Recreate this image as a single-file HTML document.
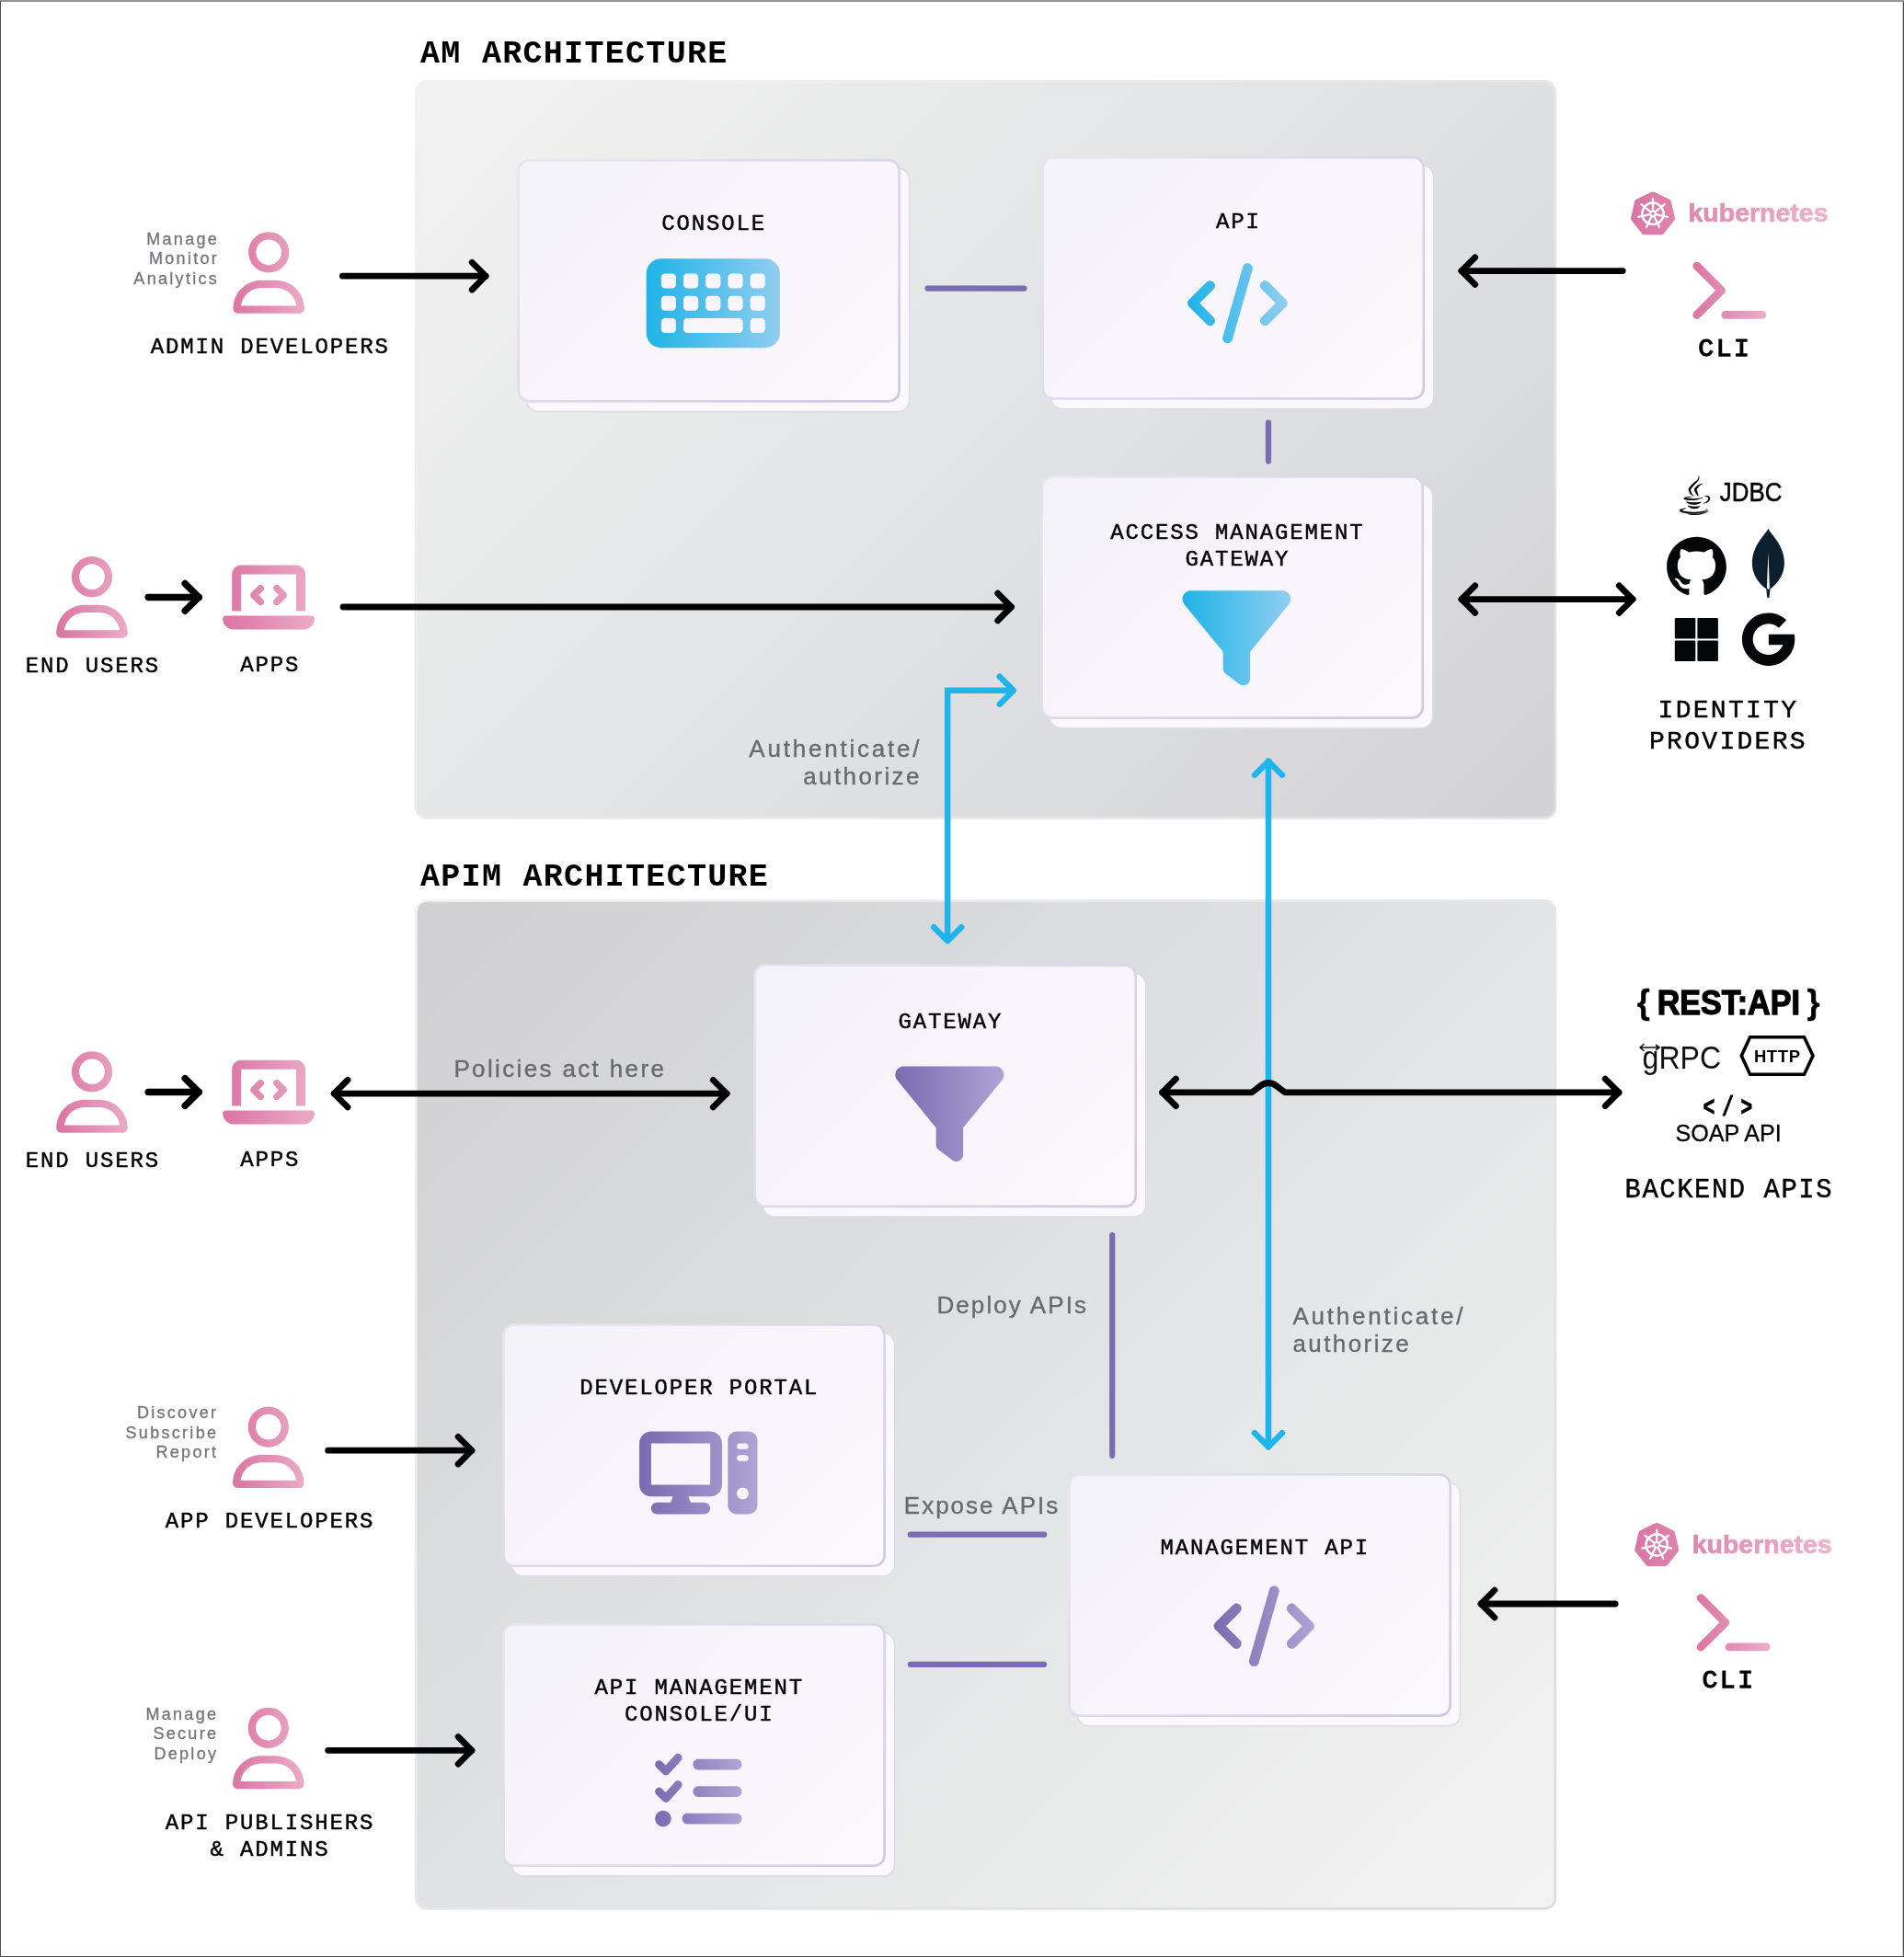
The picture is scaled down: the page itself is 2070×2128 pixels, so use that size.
<!DOCTYPE html>
<html lang="en"><head><meta charset="utf-8"><title>AM and APIM Architecture</title>
<style>
html,body{margin:0;padding:0;background:#fff;}
body{width:2070px;height:2128px;overflow:hidden;}
svg{display:block;will-change:transform;}
text{white-space:pre;}
</style></head><body>
<svg width="2070" height="2128" viewBox="0 0 2070 2128">
<defs>
<linearGradient id="gAM" gradientUnits="userSpaceOnUse" x1="451" y1="87" x2="1472" y2="1108"><stop offset="0" stop-color="#f2f2f2"/><stop offset="0.5" stop-color="#e2e3e4"/><stop offset="1" stop-color="#d2d2d4"/></linearGradient>
<linearGradient id="gAPIM" gradientUnits="userSpaceOnUse" x1="451" y1="978" x2="1620" y2="2147"><stop offset="0" stop-color="#cfcfd2"/><stop offset="0.5" stop-color="#e1e2e3"/><stop offset="1" stop-color="#f3f3f3"/></linearGradient>
<linearGradient id="gAMs" gradientUnits="userSpaceOnUse" x1="451" y1="87" x2="1472" y2="1108"><stop offset="0" stop-color="#f1f1f1"/><stop offset="1" stop-color="#dfe0e2"/></linearGradient>
<linearGradient id="gAPIMs" gradientUnits="userSpaceOnUse" x1="451" y1="978" x2="1620" y2="2147"><stop offset="0" stop-color="#f2f2f3"/><stop offset="1" stop-color="#dbdcdf"/></linearGradient>
<linearGradient id="gCard" x1="0" y1="0" x2="1.165" y2="0.7405"><stop offset="0" stop-color="#f4f2f9"/><stop offset="1" stop-color="#faf8fd"/></linearGradient>
<linearGradient id="gCardS" x1="0" y1="0" x2="1.165" y2="0.7405"><stop offset="0" stop-color="#e8e5f3"/><stop offset="0.45" stop-color="#dedaee"/><stop offset="1" stop-color="#cec9e3"/></linearGradient>
<linearGradient id="gKb" x1="0" y1="0" x2="1" y2="0"><stop offset="0" stop-color="#1fb3e8"/><stop offset="1" stop-color="#90cef0"/></linearGradient>
<linearGradient id="gCode1" x1="0" y1="0" x2="1" y2="0"><stop offset="0" stop-color="#1fb3e8"/><stop offset="1" stop-color="#90cef0"/></linearGradient>
<linearGradient id="gF1" x1="0" y1="0" x2="1" y2="0"><stop offset="0" stop-color="#1fb3e8"/><stop offset="1" stop-color="#90cef0"/></linearGradient>
<linearGradient id="gF2" x1="0" y1="0" x2="1" y2="0"><stop offset="0" stop-color="#7a6ab1"/><stop offset="1" stop-color="#aea4d4"/></linearGradient>
<linearGradient id="gPc" x1="0" y1="0" x2="1" y2="0"><stop offset="0" stop-color="#7a6ab1"/><stop offset="1" stop-color="#aea4d4"/></linearGradient>
<linearGradient id="gLc" x1="0" y1="0" x2="1" y2="0"><stop offset="0" stop-color="#7a6ab1"/><stop offset="1" stop-color="#aea4d4"/></linearGradient>
<linearGradient id="gCode2" x1="0" y1="0" x2="1" y2="0"><stop offset="0" stop-color="#7a6ab1"/><stop offset="1" stop-color="#aea4d4"/></linearGradient>
<linearGradient id="gP1" x1="0" y1="0" x2="1" y2="0"><stop offset="0" stop-color="#dc74a3"/><stop offset="1" stop-color="#eaabc6"/></linearGradient>
<linearGradient id="gP2" x1="0" y1="0" x2="1" y2="0"><stop offset="0" stop-color="#dc74a3"/><stop offset="1" stop-color="#eaabc6"/></linearGradient>
<linearGradient id="gP3" x1="0" y1="0" x2="1" y2="0"><stop offset="0" stop-color="#dc74a3"/><stop offset="1" stop-color="#eaabc6"/></linearGradient>
<linearGradient id="gP4" x1="0" y1="0" x2="1" y2="0"><stop offset="0" stop-color="#dc74a3"/><stop offset="1" stop-color="#eaabc6"/></linearGradient>
<linearGradient id="gP5" x1="0" y1="0" x2="1" y2="0"><stop offset="0" stop-color="#dc74a3"/><stop offset="1" stop-color="#eaabc6"/></linearGradient>
<linearGradient id="gL1" x1="0" y1="0" x2="1" y2="0"><stop offset="0" stop-color="#dc74a3"/><stop offset="1" stop-color="#eaabc6"/></linearGradient>
<linearGradient id="gL2" x1="0" y1="0" x2="1" y2="0"><stop offset="0" stop-color="#dc74a3"/><stop offset="1" stop-color="#eaabc6"/></linearGradient>
<linearGradient id="gK1" gradientUnits="userSpaceOnUse" x1="1772.7" y1="0" x2="1988.0" y2="0"><stop offset="0" stop-color="#da75a3"/><stop offset="1" stop-color="#edb3cb"/></linearGradient>
<linearGradient id="gT1" x1="0" y1="0" x2="1" y2="0"><stop offset="0" stop-color="#dc74a3"/><stop offset="1" stop-color="#ebadc7"/></linearGradient>
<linearGradient id="gK2" gradientUnits="userSpaceOnUse" x1="1776.9" y1="0" x2="1992.2" y2="0"><stop offset="0" stop-color="#da75a3"/><stop offset="1" stop-color="#edb3cb"/></linearGradient>
<linearGradient id="gT2" x1="0" y1="0" x2="1" y2="0"><stop offset="0" stop-color="#dc74a3"/><stop offset="1" stop-color="#ebadc7"/></linearGradient>
</defs>
<rect x="0" y="0" width="2070" height="2128" fill="#fff"/>
<rect x="0" y="0" width="2070" height="1" fill="#999"/><rect x="0" y="1" width="2070" height="1" fill="#8b8c8e"/>
<rect x="0" y="1" width="1" height="2127" fill="#4e5054"/><rect x="2068.7" y="2" width="1.3" height="2126" fill="#4e5054"/><rect x="0" y="2127" width="2070" height="1" fill="#4e5054"/>
<text x="457.00" y="68.20" font-family='"Liberation Mono", "DejaVu Sans Mono", monospace' font-size="35" font-weight="bold" fill="#000" text-anchor="start" letter-spacing="1.3" >AM ARCHITECTURE</text>
<text x="457.00" y="963.00" font-family='"Liberation Mono", "DejaVu Sans Mono", monospace' font-size="35" font-weight="bold" fill="#000" text-anchor="start" letter-spacing="1.3" >APIM ARCHITECTURE</text>
<rect x="452.3" y="88.3" width="1238.5" height="801.1" rx="11.5" fill="url(#gAM)" stroke="url(#gAMs)" stroke-width="2.6"/>
<rect x="452.3" y="979.4" width="1238.5" height="1096" rx="11.5" fill="url(#gAPIM)" stroke="url(#gAPIMs)" stroke-width="2.6"/>
<rect x="572.4" y="183.0" width="416.1" height="264.5" rx="12.5" fill="#faf8fd" stroke="#dddce5" stroke-width="1.4"/>
<rect x="563.60" y="174.20" width="414.0" height="262.2" rx="11.5" fill="url(#gCard)" stroke="url(#gCardS)" stroke-width="2.6"/>
<rect x="1142.6" y="180.1" width="416.1" height="264.5" rx="12.5" fill="#faf8fd" stroke="#dddce5" stroke-width="1.4"/>
<rect x="1133.80" y="171.30" width="414.0" height="262.2" rx="11.5" fill="url(#gCard)" stroke="url(#gCardS)" stroke-width="2.6"/>
<rect x="1141.5" y="527.2" width="416.1" height="264.5" rx="12.5" fill="#faf8fd" stroke="#dddce5" stroke-width="1.4"/>
<rect x="1132.70" y="518.40" width="414.0" height="262.2" rx="11.5" fill="url(#gCard)" stroke="url(#gCardS)" stroke-width="2.6"/>
<rect x="829.5" y="1058.5" width="416.1" height="264.5" rx="12.5" fill="#faf8fd" stroke="#dddce5" stroke-width="1.4"/>
<rect x="820.70" y="1049.70" width="414.0" height="262.2" rx="11.5" fill="url(#gCard)" stroke="url(#gCardS)" stroke-width="2.6"/>
<rect x="556.4" y="1449.3" width="416.1" height="264.5" rx="12.5" fill="#faf8fd" stroke="#dddce5" stroke-width="1.4"/>
<rect x="547.60" y="1440.50" width="414.0" height="262.2" rx="11.5" fill="url(#gCard)" stroke="url(#gCardS)" stroke-width="2.6"/>
<rect x="556.4" y="1775.3" width="416.1" height="264.5" rx="12.5" fill="#faf8fd" stroke="#dddce5" stroke-width="1.4"/>
<rect x="547.60" y="1766.50" width="414.0" height="262.2" rx="11.5" fill="url(#gCard)" stroke="url(#gCardS)" stroke-width="2.6"/>
<rect x="1171.4" y="1612.2" width="416.1" height="264.5" rx="12.5" fill="#faf8fd" stroke="#dddce5" stroke-width="1.4"/>
<rect x="1162.60" y="1603.40" width="414.0" height="262.2" rx="11.5" fill="url(#gCard)" stroke="url(#gCardS)" stroke-width="2.6"/>
<text x="776.22" y="249.80" font-family='"Liberation Mono", "DejaVu Sans Mono", monospace' font-size="24" font-weight="normal" fill="#000" text-anchor="middle" letter-spacing="1.85"  stroke="#000" stroke-width="0.45">CONSOLE</text>
<path transform="translate(702.65 265.16) scale(0.25226)" fill="url(#gKb)" d="M64 64C28.7 64 0 92.7 0 128V384c0 35.300 28.700 64 64 64H512c35.300 0 64-28.700 64-64V128c0-35.300-28.700-64-64-64H64zm16 64h32c8.800 0 16 7.200 16 16v32c0 8.800-7.200 16-16 16H80c-8.800 0-16-7.200-16-16V144c0-8.800 7.200-16 16-16zM64 240c0-8.800 7.200-16 16-16h32c8.800 0 16 7.200 16 16v32c0 8.800-7.200 16-16 16H80c-8.800 0-16-7.200-16-16V240zm16 80h32c8.800 0 16 7.200 16 16v32c0 8.800-7.200 16-16 16H80c-8.800 0-16-7.200-16-16V336c0-8.800 7.200-16 16-16zm80-176c0-8.800 7.200-16 16-16h32c8.800 0 16 7.200 16 16v32c0 8.800-7.200 16-16 16H176c-8.800 0-16-7.200-16-16V144zm16 80h32c8.800 0 16 7.200 16 16v32c0 8.800-7.200 16-16 16H176c-8.800 0-16-7.200-16-16V240c0-8.800 7.200-16 16-16zM160 336c0-8.800 7.200-16 16-16H400c8.800 0 16 7.200 16 16v32c0 8.800-7.200 16-16 16H176c-8.800 0-16-7.200-16-16V336zM272 128h32c8.800 0 16 7.200 16 16v32c0 8.800-7.200 16-16 16H272c-8.800 0-16-7.200-16-16V144c0-8.800 7.200-16 16-16zM256 240c0-8.800 7.200-16 16-16h32c8.800 0 16 7.200 16 16v32c0 8.800-7.200 16-16 16H272c-8.800 0-16-7.200-16-16V240zM368 128h32c8.800 0 16 7.200 16 16v32c0 8.800-7.200 16-16 16H368c-8.800 0-16-7.200-16-16V144c0-8.800 7.200-16 16-16zM352 240c0-8.800 7.200-16 16-16h32c8.800 0 16 7.200 16 16v32c0 8.800-7.200 16-16 16H368c-8.800 0-16-7.200-16-16V240zM464 128h32c8.800 0 16 7.200 16 16v32c0 8.800-7.200 16-16 16H464c-8.800 0-16-7.200-16-16V144c0-8.800 7.200-16 16-16zM448 240c0-8.800 7.200-16 16-16h32c8.800 0 16 7.200 16 16v32c0 8.800-7.200 16-16 16H464c-8.800 0-16-7.200-16-16V240zm16 80h32c8.800 0 16 7.200 16 16v32c0 8.800-7.200 16-16 16H464c-8.800 0-16-7.200-16-16V336c0-8.800 7.200-16 16-16z"/>
<text x="1346.42" y="247.50" font-family='"Liberation Mono", "DejaVu Sans Mono", monospace' font-size="24" font-weight="normal" fill="#000" text-anchor="middle" letter-spacing="1.85"  stroke="#000" stroke-width="0.45">API</text>
<path transform="translate(1291.10 286.20) scale(0.17000)" fill="url(#gCode1)" d="M392.8 1.2c-17-4.900-34.700 5-39.600 22l-128 448c-4.900 17 5 34.700 22 39.600s34.700-5 39.600-22l128-448c4.900-17-5-34.700-22-39.600zm80.600 120.100c-12.500 12.500-12.500 32.800 0 45.300L562.700 256l-89.400 89.400c-12.500 12.500-12.500 32.800 0 45.300s32.800 12.500 45.300 0l112-112c12.500-12.500 12.500-32.800 0-45.300l-112-112c-12.500-12.500-32.800-12.500-45.300 0zm-306.700 0c-12.500-12.500-32.800-12.500-45.300 0l-112 112c-12.500 12.500-12.500 32.800 0 45.300l112 112c12.500 12.500 32.800 12.500 45.300 0s12.500-32.800 0-45.300L77.300 256l89.400-89.400c12.500-12.500 12.500-32.800 0-45.300z"/>
<text x="1345.33" y="585.70" font-family='"Liberation Mono", "DejaVu Sans Mono", monospace' font-size="24" font-weight="normal" fill="#000" text-anchor="middle" letter-spacing="1.85"  stroke="#000" stroke-width="0.45">ACCESS MANAGEMENT</text>
<text x="1345.33" y="615.00" font-family='"Liberation Mono", "DejaVu Sans Mono", monospace' font-size="24" font-weight="normal" fill="#000" text-anchor="middle" letter-spacing="1.85"  stroke="#000" stroke-width="0.45">GATEWAY</text>
<path transform="translate(1285.50 634.84) scale(0.23008)" fill="url(#gF1)" d="M3.9 54.9C10.5 40.9 24.5 32 40 32H472c15.500 0 29.500 8.900 36.100 22.900s4.600 30.500-5.200 42.500L320 320.900V448c0 12.100-6.800 23.200-17.700 28.600s-23.800 4.300-33.500-3l-64-48c-8.100-6-12.800-15.500-12.800-25.600V320.900L9 97.300C-.7 85.400-2.800 68.800 3.900 54.900z"/>
<text x="1033.33" y="1118.00" font-family='"Liberation Mono", "DejaVu Sans Mono", monospace' font-size="24" font-weight="normal" fill="#000" text-anchor="middle" letter-spacing="1.85"  stroke="#000" stroke-width="0.45">GATEWAY</text>
<path transform="translate(973.30 1152.11) scale(0.23086)" fill="url(#gF2)" d="M3.9 54.9C10.5 40.9 24.5 32 40 32H472c15.500 0 29.500 8.900 36.100 22.900s4.600 30.500-5.200 42.500L320 320.900V448c0 12.100-6.800 23.200-17.700 28.600s-23.800 4.300-33.500-3l-64-48c-8.100-6-12.800-15.500-12.800-25.600V320.900L9 97.300C-.7 85.400-2.800 68.800 3.900 54.900z"/>
<text x="760.22" y="1515.70" font-family='"Liberation Mono", "DejaVu Sans Mono", monospace' font-size="24" font-weight="normal" fill="#000" text-anchor="middle" letter-spacing="1.85"  stroke="#000" stroke-width="0.45">DEVELOPER PORTAL</text>
<path transform="translate(695.10 1550.18) scale(0.20062)" fill="url(#gPc)" d="M384 96V320H64L64 96H384zM64 32C28.700 32 0 60.700 0 96V320c0 35.300 28.700 64 64 64H181.300l-10.700 32H96c-17.700 0-32 14.300-32 32s14.300 32 32 32H352c17.700 0 32-14.300 32-32s-14.300-32-32-32H277.300l-10.700-32H384c35.300 0 64-28.700 64-64V96c0-35.300-28.700-64-64-64H64zm464 0c-26.500 0-48 21.500-48 48V432c0 26.500 21.500 48 48 48h64c26.500 0 48-21.500 48-48V80c0-26.500-21.500-48-48-48H528zm16 64h32c8.800 0 16 7.200 16 16s-7.200 16-16 16H544c-8.800 0-16-7.200-16-16s7.200-16 16-16zm-16 80c0-8.800 7.200-16 16-16h32c8.800 0 16 7.200 16 16s-7.200 16-16 16H544c-8.800 0-16-7.200-16-16zm32 160a32 32 0 1 1 0 64 32 32 0 1 1 0-64z"/>
<text x="760.22" y="1842.10" font-family='"Liberation Mono", "DejaVu Sans Mono", monospace' font-size="24" font-weight="normal" fill="#000" text-anchor="middle" letter-spacing="1.85"  stroke="#000" stroke-width="0.45">API MANAGEMENT</text>
<text x="760.22" y="1870.70" font-family='"Liberation Mono", "DejaVu Sans Mono", monospace' font-size="24" font-weight="normal" fill="#000" text-anchor="middle" letter-spacing="1.85"  stroke="#000" stroke-width="0.45">CONSOLE/UI</text>
<path transform="translate(712.10 1900.90) scale(0.18438)" fill="url(#gLc)" d="M152.100 38.200c9.900 8.900 10.700 24 1.800 33.900l-72 80c-4.400 4.900-10.600 7.800-17.200 7.900s-12.900-2.400-17.600-7L7 113C-2.300 103.600-2.300 88.400 7 79s24.600-9.400 33.900 0l22.100 22.100 55.100-61.200c8.900-9.900 24-10.700 33.900-1.800zm0 160c9.900 8.900 10.700 24 1.800 33.900l-72 80c-4.400 4.900-10.600 7.800-17.200 7.900s-12.900-2.400-17.600-7L7 273c-9.400-9.400-9.400-24.600 0-33.900s24.600-9.400 33.900 0l22.100 22.100 55.100-61.200c8.900-9.900 24-10.700 33.900-1.800zM224 96c0-17.700 14.300-32 32-32H480c17.700 0 32 14.300 32 32s-14.300 32-32 32H256c-17.700 0-32-14.300-32-32zm0 160c0-17.700 14.300-32 32-32H480c17.700 0 32 14.300 32 32s-14.300 32-32 32H256c-17.700 0-32-14.300-32-32zM160 416c0-17.700 14.300-32 32-32H480c17.700 0 32 14.300 32 32s-14.300 32-32 32H192c-17.700 0-32-14.300-32-32zM48 368a48 48 0 1 1 0 96 48 48 0 1 1 0-96z"/>
<text x="1375.22" y="1690.20" font-family='"Liberation Mono", "DejaVu Sans Mono", monospace' font-size="24" font-weight="normal" fill="#000" text-anchor="middle" letter-spacing="1.85"  stroke="#000" stroke-width="0.45">MANAGEMENT API</text>
<path transform="translate(1319.70 1724.50) scale(0.17062)" fill="url(#gCode2)" d="M392.8 1.2c-17-4.900-34.700 5-39.600 22l-128 448c-4.900 17 5 34.700 22 39.600s34.700-5 39.600-22l128-448c4.900-17-5-34.700-22-39.600zm80.600 120.100c-12.500 12.500-12.500 32.800 0 45.300L562.700 256l-89.400 89.400c-12.500 12.500-12.500 32.800 0 45.300s32.800 12.500 45.300 0l112-112c12.500-12.500 12.500-32.800 0-45.300l-112-112c-12.500-12.500-32.800-12.500-45.300 0zm-306.700 0c-12.500-12.500-32.800-12.500-45.300 0l-112 112c-12.500 12.500-12.500 32.800 0 45.300l112 112c12.500 12.500 32.800 12.500 45.300 0s12.500-32.800 0-45.300L77.300 256l89.400-89.400c12.500-12.500 12.500-32.800 0-45.300z"/>
<path transform="translate(253.45 252.16) scale(0.17299)" fill="url(#gP1)" d="M304 128a80 80 0 1 0 -160 0 80 80 0 1 0 160 0zM96 128a128 128 0 1 1 256 0A128 128 0 1 1 96 128zM49.300 464H398.700c-8.900-63.300-63.300-112-129-112H178.300c-65.700 0-120.100 48.700-129 112zM0 482.300C0 383.800 79.800 304 178.300 304h91.400C368.200 304 448 383.800 448 482.300c0 16.400-13.300 29.700-29.700 29.700H29.700C13.300 512 0 498.700 0 482.300z"/>
<path transform="translate(61.25 605.06) scale(0.17299)" fill="url(#gP2)" d="M304 128a80 80 0 1 0 -160 0 80 80 0 1 0 160 0zM96 128a128 128 0 1 1 256 0A128 128 0 1 1 96 128zM49.300 464H398.700c-8.900-63.300-63.300-112-129-112H178.300c-65.700 0-120.100 48.700-129 112zM0 482.300C0 383.800 79.800 304 178.300 304h91.400C368.200 304 448 383.800 448 482.300c0 16.400-13.300 29.700-29.700 29.700H29.700C13.300 512 0 498.700 0 482.300z"/>
<path transform="translate(61.25 1143.16) scale(0.17299)" fill="url(#gP3)" d="M304 128a80 80 0 1 0 -160 0 80 80 0 1 0 160 0zM96 128a128 128 0 1 1 256 0A128 128 0 1 1 96 128zM49.300 464H398.700c-8.900-63.300-63.300-112-129-112H178.300c-65.700 0-120.100 48.700-129 112zM0 482.300C0 383.800 79.800 304 178.300 304h91.400C368.200 304 448 383.800 448 482.300c0 16.400-13.300 29.700-29.700 29.700H29.700C13.300 512 0 498.700 0 482.300z"/>
<path transform="translate(253.05 1529.46) scale(0.17299)" fill="url(#gP4)" d="M304 128a80 80 0 1 0 -160 0 80 80 0 1 0 160 0zM96 128a128 128 0 1 1 256 0A128 128 0 1 1 96 128zM49.300 464H398.700c-8.900-63.300-63.300-112-129-112H178.300c-65.700 0-120.100 48.700-129 112zM0 482.300C0 383.800 79.800 304 178.300 304h91.400C368.200 304 448 383.800 448 482.300c0 16.400-13.300 29.700-29.700 29.700H29.700C13.300 512 0 498.700 0 482.300z"/>
<path transform="translate(253.05 1856.66) scale(0.17299)" fill="url(#gP5)" d="M304 128a80 80 0 1 0 -160 0 80 80 0 1 0 160 0zM96 128a128 128 0 1 1 256 0A128 128 0 1 1 96 128zM49.300 464H398.700c-8.900-63.300-63.300-112-129-112H178.300c-65.700 0-120.100 48.700-129 112zM0 482.300C0 383.800 79.800 304 178.300 304h91.400C368.200 304 448 383.800 448 482.300c0 16.400-13.300 29.700-29.700 29.700H29.700C13.300 512 0 498.700 0 482.300z"/>
<path transform="translate(242.20 609.61) scale(0.15594)" fill="url(#gL1)" d="M64 96c0-35.300 28.700-64 64-64H512c35.300 0 64 28.700 64 64V352H512V96H128V352H64V96zM0 403.200C0 392.600 8.600 384 19.200 384H620.800c10.600 0 19.200 8.600 19.200 19.200c0 42.400-34.400 76.800-76.800 76.800H76.800C34.400 480 0 445.600 0 403.200zM281 209l-31 31 31 31c9.400 9.400 9.400 24.600 0 33.900s-24.600 9.400-33.900 0l-48-48c-9.400-9.400-9.400-24.600 0-33.900l48-48c9.400-9.400 24.600-9.400 33.900 0s9.400 24.600 0 33.900zM393 175l48 48c9.400 9.400 9.400 24.600 0 33.900l-48 48c-9.400 9.400-24.600 9.400-33.900 0s-9.400-24.600 0-33.900l31-31-31-31c-9.400-9.400-9.400-24.600 0-33.900s24.600-9.400 33.900 0z"/>
<path transform="translate(242.20 1147.71) scale(0.15594)" fill="url(#gL2)" d="M64 96c0-35.300 28.700-64 64-64H512c35.300 0 64 28.700 64 64V352H512V96H128V352H64V96zM0 403.200C0 392.600 8.600 384 19.200 384H620.800c10.600 0 19.200 8.600 19.200 19.200c0 42.400-34.400 76.800-76.800 76.800H76.800C34.400 480 0 445.600 0 403.200zM281 209l-31 31 31 31c9.400 9.400 9.400 24.600 0 33.900s-24.600 9.400-33.900 0l-48-48c-9.400-9.400-9.400-24.600 0-33.900l48-48c9.400-9.400 24.600-9.400 33.900 0s9.400 24.600 0 33.900zM393 175l48 48c9.400 9.400 9.400 24.600 0 33.900l-48 48c-9.400 9.400-24.600 9.400-33.900 0s-9.400-24.600 0-33.900l31-31-31-31c-9.400-9.400-9.400-24.600 0-33.900s24.600-9.400 33.900 0z"/>
<text x="293.73" y="383.60" font-family='"Liberation Mono", "DejaVu Sans Mono", monospace' font-size="24" font-weight="normal" fill="#000" text-anchor="middle" letter-spacing="1.85"  stroke="#000" stroke-width="0.45">ADMIN DEVELOPERS</text>
<text x="100.92" y="731.00" font-family='"Liberation Mono", "DejaVu Sans Mono", monospace' font-size="24" font-weight="normal" fill="#000" text-anchor="middle" letter-spacing="1.85"  stroke="#000" stroke-width="0.45">END USERS</text>
<text x="293.82" y="730.00" font-family='"Liberation Mono", "DejaVu Sans Mono", monospace' font-size="24" font-weight="normal" fill="#000" text-anchor="middle" letter-spacing="1.85"  stroke="#000" stroke-width="0.45">APPS</text>
<text x="100.92" y="1269.10" font-family='"Liberation Mono", "DejaVu Sans Mono", monospace' font-size="24" font-weight="normal" fill="#000" text-anchor="middle" letter-spacing="1.85"  stroke="#000" stroke-width="0.45">END USERS</text>
<text x="293.82" y="1268.10" font-family='"Liberation Mono", "DejaVu Sans Mono", monospace' font-size="24" font-weight="normal" fill="#000" text-anchor="middle" letter-spacing="1.85"  stroke="#000" stroke-width="0.45">APPS</text>
<text x="293.62" y="1661.40" font-family='"Liberation Mono", "DejaVu Sans Mono", monospace' font-size="24" font-weight="normal" fill="#000" text-anchor="middle" letter-spacing="1.85"  stroke="#000" stroke-width="0.45">APP DEVELOPERS</text>
<text x="293.62" y="1989.00" font-family='"Liberation Mono", "DejaVu Sans Mono", monospace' font-size="24" font-weight="normal" fill="#000" text-anchor="middle" letter-spacing="1.85"  stroke="#000" stroke-width="0.45">API PUBLISHERS</text>
<text x="293.62" y="2018.00" font-family='"Liberation Mono", "DejaVu Sans Mono", monospace' font-size="24" font-weight="normal" fill="#000" text-anchor="middle" letter-spacing="1.85"  stroke="#000" stroke-width="0.45">&amp; ADMINS</text>
<text x="238.10" y="265.50" font-family='"Liberation Sans", "DejaVu Sans", sans-serif' font-size="18" font-weight="normal" fill="#737477" text-anchor="end" letter-spacing="2.3" stroke="#737477" stroke-width="0.3">Manage</text>
<text x="238.10" y="287.00" font-family='"Liberation Sans", "DejaVu Sans", sans-serif' font-size="18" font-weight="normal" fill="#737477" text-anchor="end" letter-spacing="2.3" stroke="#737477" stroke-width="0.3">Monitor</text>
<text x="238.10" y="308.50" font-family='"Liberation Sans", "DejaVu Sans", sans-serif' font-size="18" font-weight="normal" fill="#737477" text-anchor="end" letter-spacing="2.3" stroke="#737477" stroke-width="0.3">Analytics</text>
<text x="237.30" y="1542.40" font-family='"Liberation Sans", "DejaVu Sans", sans-serif' font-size="18" font-weight="normal" fill="#737477" text-anchor="end" letter-spacing="2.3" stroke="#737477" stroke-width="0.3">Discover</text>
<text x="237.30" y="1563.90" font-family='"Liberation Sans", "DejaVu Sans", sans-serif' font-size="18" font-weight="normal" fill="#737477" text-anchor="end" letter-spacing="2.3" stroke="#737477" stroke-width="0.3">Subscribe</text>
<text x="237.30" y="1585.40" font-family='"Liberation Sans", "DejaVu Sans", sans-serif' font-size="18" font-weight="normal" fill="#737477" text-anchor="end" letter-spacing="2.3" stroke="#737477" stroke-width="0.3">Report</text>
<text x="237.30" y="1869.60" font-family='"Liberation Sans", "DejaVu Sans", sans-serif' font-size="18" font-weight="normal" fill="#737477" text-anchor="end" letter-spacing="2.3" stroke="#737477" stroke-width="0.3">Manage</text>
<text x="237.30" y="1891.10" font-family='"Liberation Sans", "DejaVu Sans", sans-serif' font-size="18" font-weight="normal" fill="#737477" text-anchor="end" letter-spacing="2.3" stroke="#737477" stroke-width="0.3">Secure</text>
<text x="237.30" y="1912.60" font-family='"Liberation Sans", "DejaVu Sans", sans-serif' font-size="18" font-weight="normal" fill="#737477" text-anchor="end" letter-spacing="2.3" stroke="#737477" stroke-width="0.3">Deploy</text>
<text x="1002.28" y="822.70" font-family='"Liberation Sans", "DejaVu Sans", sans-serif' font-size="26" font-weight="normal" fill="#68696c" text-anchor="end" letter-spacing="2.78" stroke="#68696c" stroke-width="0.35">Authenticate/</text>
<text x="1001.92" y="853.20" font-family='"Liberation Sans", "DejaVu Sans", sans-serif' font-size="26" font-weight="normal" fill="#68696c" text-anchor="end" letter-spacing="2.42" stroke="#68696c" stroke-width="0.35">authorize</text>
<text x="1405.40" y="1440.00" font-family='"Liberation Sans", "DejaVu Sans", sans-serif' font-size="26" font-weight="normal" fill="#68696c" text-anchor="start" letter-spacing="2.78" stroke="#68696c" stroke-width="0.35">Authenticate/</text>
<text x="1405.40" y="1469.70" font-family='"Liberation Sans", "DejaVu Sans", sans-serif' font-size="26" font-weight="normal" fill="#68696c" text-anchor="start" letter-spacing="2.42" stroke="#68696c" stroke-width="0.35">authorize</text>
<text x="493.40" y="1171.20" font-family='"Liberation Sans", "DejaVu Sans", sans-serif' font-size="26" font-weight="normal" fill="#68696c" text-anchor="start" letter-spacing="2.36" stroke="#68696c" stroke-width="0.35">Policies act here</text>
<text x="1018.40" y="1427.50" font-family='"Liberation Sans", "DejaVu Sans", sans-serif' font-size="26" font-weight="normal" fill="#68696c" text-anchor="start" letter-spacing="2.1" stroke="#68696c" stroke-width="0.35">Deploy APIs</text>
<text x="982.80" y="1645.80" font-family='"Liberation Sans", "DejaVu Sans", sans-serif' font-size="26" font-weight="normal" fill="#68696c" text-anchor="start" letter-spacing="2.0" stroke="#68696c" stroke-width="0.35">Expose APIs</text>
<g fill="none" stroke="#1fb4ea" stroke-width="6.5" stroke-linecap="round" stroke-linejoin="miter">
<path d="M1101.8 750.8H1030.2V1023.2" stroke-linecap="butt"/>
<path stroke-linejoin="round" d="M1086.8 735.8L1101.8 750.8L1086.8 765.8"/>
<path stroke-linejoin="round" d="M1015.2 1008.2L1030.2 1023.2L1045.2 1008.2"/>
<path d="M1379 827.8V1573.2"/>
<path stroke-linejoin="round" d="M1364.0 842.8L1379 827.8L1394.0 842.8"/>
<path stroke-linejoin="round" d="M1364.0 1558.2L1379 1573.2L1394.0 1558.2"/>
</g>
<g fill="none" stroke="#000" stroke-width="6.8" stroke-linecap="round" stroke-linejoin="round">
<path d="M372.4 300.2H528.0"/>
<path d="M513.2 285.4L528.0 300.2L513.2 315.0"/>
</g>
<g fill="none" stroke="#000" stroke-width="7.5" stroke-linecap="round" stroke-linejoin="round">
<path d="M161.2 649.4H216.1"/>
<path d="M201.2 634.6L216.1 649.4L201.2 664.2"/>
</g>
<g fill="none" stroke="#000" stroke-width="6.8" stroke-linecap="round" stroke-linejoin="round">
<path d="M373.0 660.0H1099.5"/>
<path d="M1084.7 645.2L1099.5 660.0L1084.7 674.8"/>
</g>
<g fill="none" stroke="#000" stroke-width="6.8" stroke-linecap="round" stroke-linejoin="round">
<path d="M1588.9 294.6H1764.2"/>
<path d="M1603.7 279.8L1588.9 294.6L1603.7 309.4"/>
</g>
<g fill="none" stroke="#000" stroke-width="6.8" stroke-linecap="round" stroke-linejoin="round">
<path d="M1588.9 651.6H1775.1"/>
<path d="M1760.3 636.8L1775.1 651.6L1760.3 666.4"/>
<path d="M1603.7 636.8L1588.9 651.6L1603.7 666.4"/>
</g>
<g fill="none" stroke="#000" stroke-width="7.5" stroke-linecap="round" stroke-linejoin="round">
<path d="M161.2 1187.5H216.1"/>
<path d="M201.2 1172.7L216.1 1187.5L201.2 1202.3"/>
</g>
<g fill="none" stroke="#000" stroke-width="6.8" stroke-linecap="round" stroke-linejoin="round">
<path d="M363.2 1189.1H790.1"/>
<path d="M775.3 1174.3L790.1 1189.1L775.3 1203.9"/>
<path d="M378.0 1174.3L363.2 1189.1L378.0 1203.9"/>
</g>
<g fill="none" stroke="#000" stroke-width="6.8" stroke-linecap="round" stroke-linejoin="round">
<path d="M356.7 1577.2H512.9"/>
<path d="M498.1 1562.4L512.9 1577.2L498.1 1592.0"/>
</g>
<g fill="none" stroke="#000" stroke-width="6.8" stroke-linecap="round" stroke-linejoin="round">
<path d="M356.7 1903.3H512.9"/>
<path d="M498.1 1888.5L512.9 1903.3L498.1 1918.1"/>
</g>
<g fill="none" stroke="#000" stroke-width="6.8" stroke-linecap="round" stroke-linejoin="round">
<path d="M1610.1 1744.0H1756.1"/>
<path d="M1624.9 1729.2L1610.1 1744.0L1624.9 1758.8"/>
</g>
<g fill="none" stroke="#000" stroke-width="6.8" stroke-linecap="round" stroke-linejoin="round">
<path d="M1263.6 1187.9H1361L1370 1181.0Q1379 1174.2 1388 1181.0L1397 1187.9H1760.0"/>
<path d="M1278.4 1173.1L1263.6 1187.9L1278.4 1202.7"/>
<path d="M1745.2 1173.1L1760.0 1187.9L1745.2 1202.7"/>
</g>
<g fill="none" stroke="#7b6bb3" stroke-width="6.2" stroke-linecap="round">
<path d="M1008.5 313.6H1113.5"/>
<path d="M1379 459.5V501.5"/>
<path d="M1209.2 1343.2V1582.8"/>
<path d="M989.8 1668.7H1135.1"/>
<path d="M989.8 1809.8H1135.1"/>
</g>
<path d="M1797.00 211.90L1813.42 219.81L1817.47 237.57L1806.11 251.82L1787.89 251.82L1776.53 237.57L1780.58 219.81Z" fill="url(#gK1)" stroke="url(#gK1)" stroke-width="7" stroke-linejoin="round"/>
<g fill="none" stroke="#fff" stroke-linecap="round">
<circle cx="1797" cy="232.3" r="11.7" stroke-width="2.5"/>
<path stroke-width="2.3" d="M1797.00 229.10L1797.00 216.00"/>
<path stroke-width="2.3" d="M1799.50 230.30L1809.74 222.14"/>
<path stroke-width="2.3" d="M1800.12 233.01L1812.89 235.93"/>
<path stroke-width="2.3" d="M1798.39 235.18L1804.07 246.99"/>
<path stroke-width="2.3" d="M1795.61 235.18L1789.93 246.99"/>
<path stroke-width="2.3" d="M1793.88 233.01L1781.11 235.93"/>
<path stroke-width="2.3" d="M1794.50 230.30L1784.26 222.14"/>
</g>
<circle cx="1797" cy="232.3" r="3.7" fill="#fff"/>
<circle cx="1797" cy="232.3" r="1.8" fill="url(#gK1)"/>
<text x="1835.50" y="241.30" font-family='"Liberation Sans", "DejaVu Sans", sans-serif' font-size="28.5" font-weight="bold" fill="url(#gK1)" text-anchor="start" letter-spacing="0" textLength="152" lengthAdjust="spacingAndGlyphs" stroke="url(#gK1)" stroke-width="0.7">kubernetes</text>
<path transform="translate(1840.40 280.37) scale(0.13854)" fill="url(#gT1)" d="M9.4 86.6C-3.1 74.100-3.100 53.900 9.400 41.400s32.800-12.500 45.300 0l192 192c12.500 12.500 12.500 32.800 0 45.300l-192 192c-12.500 12.500-32.800 12.500-45.300 0s-12.500-32.800 0-45.300L178.700 256 9.400 86.600zM256 416H544c17.700 0 32 14.300 32 32s-14.300 32-32 32H256c-17.700 0-32-14.300-32-32s14.300-32 32-32z"/>
<text x="1875.40" y="387.00" font-family='"Liberation Mono", "DejaVu Sans Mono", monospace' font-size="28" font-weight="normal" fill="#000" text-anchor="middle" letter-spacing="2.6" stroke="#000" stroke-width="1.25">CLI</text>
<path d="M1801.20 1659.50L1817.62 1667.41L1821.67 1685.17L1810.31 1699.42L1792.09 1699.42L1780.73 1685.17L1784.78 1667.41Z" fill="url(#gK2)" stroke="url(#gK2)" stroke-width="7" stroke-linejoin="round"/>
<g fill="none" stroke="#fff" stroke-linecap="round">
<circle cx="1801.2" cy="1679.9" r="11.7" stroke-width="2.5"/>
<path stroke-width="2.3" d="M1801.20 1676.70L1801.20 1663.60"/>
<path stroke-width="2.3" d="M1803.70 1677.90L1813.94 1669.74"/>
<path stroke-width="2.3" d="M1804.32 1680.61L1817.09 1683.53"/>
<path stroke-width="2.3" d="M1802.59 1682.78L1808.27 1694.59"/>
<path stroke-width="2.3" d="M1799.81 1682.78L1794.13 1694.59"/>
<path stroke-width="2.3" d="M1798.08 1680.61L1785.31 1683.53"/>
<path stroke-width="2.3" d="M1798.70 1677.90L1788.46 1669.74"/>
</g>
<circle cx="1801.2" cy="1679.9" r="3.7" fill="#fff"/>
<circle cx="1801.2" cy="1679.9" r="1.8" fill="url(#gK2)"/>
<text x="1839.70" y="1688.90" font-family='"Liberation Sans", "DejaVu Sans", sans-serif' font-size="28.5" font-weight="bold" fill="url(#gK2)" text-anchor="start" letter-spacing="0" textLength="152" lengthAdjust="spacingAndGlyphs" stroke="url(#gK2)" stroke-width="0.7">kubernetes</text>
<path transform="translate(1844.70 1728.87) scale(0.13854)" fill="url(#gT2)" d="M9.4 86.6C-3.1 74.100-3.100 53.900 9.400 41.400s32.800-12.500 45.300 0l192 192c12.500 12.500 12.500 32.800 0 45.300l-192 192c-12.500 12.500-32.800 12.500-45.300 0s-12.500-32.800 0-45.300L178.700 256 9.400 86.600zM256 416H544c17.700 0 32 14.300 32 32s-14.300 32-32 32H256c-17.700 0-32-14.300-32-32s14.300-32 32-32z"/>
<text x="1879.50" y="1834.60" font-family='"Liberation Mono", "DejaVu Sans Mono", monospace' font-size="28" font-weight="normal" fill="#000" text-anchor="middle" letter-spacing="2.6" stroke="#000" stroke-width="1.25">CLI</text>
<path fill="#050608" d="M1846.8 516.8L1846.7 517.1L1846.7 517.6L1846.6 518.2L1846.6 518.8L1846.4 519.4L1846.3 520.0L1846.0 520.6L1845.7 521.2L1845.2 521.8L1844.5 522.4L1843.7 523.1L1842.8 523.8L1841.9 524.5L1841.0 525.2L1840.2 525.9L1839.5 526.6L1838.9 527.3L1838.3 527.9L1837.8 528.5L1837.3 529.1L1836.8 529.7L1836.4 530.3L1836.0 531.0L1835.8 531.8L1835.7 532.6L1835.8 533.4L1836.0 534.1L1836.3 534.7L1836.6 535.3L1836.9 535.9L1837.3 536.4L1837.6 536.9L1838.0 537.4L1838.5 537.9L1839.0 538.3L1839.6 538.7L1840.1 539.1L1840.5 539.4L1840.9 539.6L1841.2 539.8L1841.4 539.6L1841.3 539.3L1841.0 538.9L1840.7 538.5L1840.3 538.0L1839.9 537.5L1839.6 537.0L1839.3 536.5L1839.2 536.0L1838.9 535.5L1838.7 535.0L1838.5 534.5L1838.4 534.0L1838.3 533.5L1838.2 533.0L1838.2 532.7L1838.3 532.3L1838.4 532.0L1838.6 531.6L1838.9 531.1L1839.2 530.6L1839.7 530.1L1840.2 529.5L1840.7 528.9L1841.3 528.2L1841.8 527.5L1842.5 526.8L1843.3 526.0L1844.1 525.2L1844.9 524.4L1845.7 523.5L1846.3 522.7L1846.8 521.9L1847.2 521.1L1847.4 520.3L1847.4 519.5L1847.4 518.8L1847.3 518.2L1847.3 517.6L1847.2 517.1L1847.1 516.8ZM1850.8 525.8L1850.5 525.9L1850.0 526.0L1849.4 526.1L1848.8 526.3L1848.2 526.5L1847.5 526.7L1846.8 527.0L1846.2 527.3L1845.6 527.7L1845.1 528.1L1844.5 528.6L1843.9 529.2L1843.3 529.7L1842.8 530.3L1842.4 531.0L1842.0 531.7L1841.9 532.5L1842.0 533.3L1842.2 533.9L1842.5 534.5L1842.8 535.0L1843.1 535.5L1843.3 535.9L1843.5 536.4L1843.9 536.8L1844.2 537.3L1844.6 537.8L1845.0 538.3L1845.4 538.8L1845.8 539.2L1846.1 539.5L1846.3 539.8L1846.6 539.6L1846.6 539.3L1846.5 538.8L1846.4 538.3L1846.2 537.7L1846.1 537.1L1845.9 536.5L1845.8 536.0L1845.7 535.4L1845.5 534.9L1845.3 534.3L1845.0 533.9L1844.9 533.4L1844.7 533.1L1844.7 532.8L1844.7 532.6L1844.7 532.4L1844.8 532.1L1845.0 531.7L1845.2 531.2L1845.6 530.7L1846.0 530.2L1846.5 529.6L1846.9 529.2L1847.3 528.7L1847.7 528.3L1848.2 528.0L1848.7 527.6L1849.2 527.3L1849.8 527.0L1850.3 526.7L1850.7 526.4L1851.0 526.2ZM1830.6 542.8L1830.9 542.9L1831.4 543.0L1832.0 543.2L1832.6 543.4L1833.3 543.6L1834.0 543.7L1834.7 543.9L1835.5 544.0L1836.2 544.1L1836.9 544.1L1837.7 544.1L1838.5 544.1L1839.3 544.1L1840.0 544.1L1840.8 544.0L1841.5 544.0L1842.2 543.9L1842.9 543.8L1843.6 543.7L1844.2 543.5L1844.9 543.4L1845.5 543.3L1846.1 543.1L1846.7 542.9L1847.4 542.8L1848.0 542.5L1848.6 542.3L1849.3 542.1L1849.8 541.9L1850.3 541.7L1850.8 541.5L1851.1 541.4L1851.0 541.0L1850.6 541.0L1850.2 541.1L1849.6 541.2L1849.0 541.3L1848.4 541.5L1847.8 541.6L1847.1 541.7L1846.5 541.8L1845.9 541.8L1845.3 541.9L1844.7 542.0L1844.0 542.1L1843.4 542.1L1842.7 542.2L1842.1 542.2L1841.4 542.2L1840.7 542.2L1840.0 542.2L1839.3 542.2L1838.5 542.1L1837.8 542.1L1837.1 542.0L1836.4 541.9L1835.7 541.8L1835.1 541.8L1834.4 541.7L1833.7 541.6L1833.0 541.5L1832.4 541.4L1831.8 541.3L1831.3 541.2L1830.9 541.2ZM1831.1 542.3L1831.3 542.2L1831.6 542.1L1831.9 542.0L1832.3 541.8L1832.7 541.7L1833.1 541.5L1833.5 541.4L1833.9 541.3L1834.3 541.2L1834.7 541.1L1835.2 541.0L1835.7 541.0L1836.2 540.9L1836.6 540.9L1837.1 540.8L1837.4 540.8L1837.8 540.7L1838.1 540.7L1838.4 540.7L1838.7 540.7L1839.0 540.6L1839.3 540.6L1839.5 540.6L1839.6 540.6L1839.6 540.3L1839.5 540.3L1839.3 540.2L1839.0 540.2L1838.8 540.1L1838.5 540.1L1838.1 540.0L1837.8 540.0L1837.4 540.0L1837.0 540.0L1836.6 540.0L1836.1 540.0L1835.6 540.1L1835.1 540.1L1834.6 540.2L1834.1 540.2L1833.6 540.3L1833.2 540.4L1832.8 540.5L1832.3 540.7L1831.9 540.8L1831.5 540.9L1831.2 541.0L1830.9 541.1L1830.7 541.2ZM1833.3 545.9L1833.5 546.1L1833.8 546.3L1834.2 546.6L1834.7 546.9L1835.2 547.3L1835.7 547.6L1836.2 547.9L1836.8 548.1L1837.3 548.3L1837.9 548.4L1838.5 548.5L1839.1 548.6L1839.7 548.7L1840.3 548.8L1840.9 548.8L1841.5 548.9L1842.1 548.8L1842.7 548.8L1843.3 548.7L1843.8 548.7L1844.4 548.6L1845.0 548.5L1845.6 548.3L1846.1 548.2L1846.6 548.0L1847.2 547.7L1847.7 547.5L1848.2 547.2L1848.7 546.9L1849.1 546.7L1849.4 546.4L1849.7 546.2L1849.5 545.7L1849.1 545.7L1848.7 545.7L1848.3 545.8L1847.8 545.9L1847.2 545.9L1846.7 546.0L1846.2 546.0L1845.7 546.1L1845.2 546.1L1844.7 546.2L1844.1 546.2L1843.6 546.3L1843.1 546.3L1842.5 546.3L1842.0 546.3L1841.5 546.3L1841.0 546.3L1840.4 546.3L1839.9 546.3L1839.4 546.2L1838.8 546.2L1838.3 546.1L1837.8 546.1L1837.3 546.0L1836.8 546.0L1836.3 545.9L1835.8 545.8L1835.2 545.6L1834.7 545.5L1834.2 545.4L1833.8 545.3L1833.5 545.3ZM1834.9 550.2L1835.1 550.4L1835.4 550.7L1835.8 551.0L1836.3 551.3L1836.7 551.6L1837.2 552.0L1837.7 552.3L1838.2 552.5L1838.7 552.7L1839.1 552.8L1839.6 552.9L1840.0 553.0L1840.5 553.1L1840.9 553.2L1841.4 553.2L1841.8 553.3L1842.2 553.3L1842.7 553.2L1843.1 553.2L1843.6 553.1L1844.0 553.1L1844.5 553.0L1844.9 552.9L1845.4 552.8L1845.8 552.6L1846.3 552.3L1846.8 552.1L1847.3 551.8L1847.7 551.6L1848.1 551.3L1848.5 551.1L1848.7 550.9L1848.5 550.4L1848.2 550.4L1847.8 550.4L1847.4 550.4L1846.9 550.5L1846.4 550.5L1845.8 550.6L1845.4 550.6L1844.9 550.6L1844.5 550.7L1844.1 550.7L1843.8 550.7L1843.4 550.7L1843.0 550.7L1842.6 550.7L1842.3 550.7L1841.9 550.7L1841.5 550.7L1841.1 550.7L1840.7 550.7L1840.4 550.7L1840.0 550.6L1839.6 550.6L1839.2 550.5L1838.9 550.4L1838.4 550.4L1837.9 550.3L1837.4 550.2L1836.9 550.0L1836.3 549.9L1835.9 549.8L1835.4 549.7L1835.1 549.7ZM1833.0 552.5L1832.7 552.5L1832.2 552.6L1831.6 552.6L1831.0 552.7L1830.4 552.8L1829.8 552.9L1829.2 553.0L1828.7 553.2L1828.3 553.3L1827.8 553.5L1827.4 553.6L1827.0 553.8L1826.6 554.1L1826.2 554.6L1826.1 555.4L1826.4 556.1L1826.9 556.5L1827.4 556.8L1828.0 557.0L1828.7 557.2L1829.5 557.4L1830.3 557.6L1831.2 557.8L1832.1 557.9L1833.2 558.0L1834.3 558.1L1835.6 558.2L1836.9 558.3L1838.2 558.4L1839.6 558.4L1840.9 558.5L1842.2 558.4L1843.5 558.4L1844.8 558.2L1846.1 558.1L1847.4 557.9L1848.7 557.8L1849.9 557.6L1851.0 557.4L1851.9 557.2L1852.8 556.9L1853.5 556.7L1854.1 556.4L1854.7 556.1L1855.2 555.8L1855.6 555.5L1855.9 555.2L1856.2 555.0L1856.4 554.6L1856.4 554.2L1856.3 553.9L1856.1 553.7L1855.9 553.5L1855.7 553.4L1855.6 553.3L1855.5 553.3L1855.2 553.5L1855.3 553.6L1855.4 553.8L1855.5 553.9L1855.7 554.1L1855.7 554.2L1855.7 554.3L1855.7 554.3L1855.6 554.3L1855.3 554.5L1855.0 554.6L1854.6 554.8L1854.2 555.0L1853.7 555.2L1853.1 555.4L1852.4 555.6L1851.6 555.8L1850.7 555.9L1849.6 556.1L1848.5 556.3L1847.3 556.4L1846.0 556.5L1844.7 556.6L1843.4 556.7L1842.2 556.7L1841.0 556.7L1839.7 556.7L1838.3 556.6L1837.0 556.5L1835.7 556.4L1834.5 556.2L1833.4 556.1L1832.4 555.9L1831.5 555.8L1830.7 555.6L1830.0 555.4L1829.3 555.2L1828.8 555.0L1828.3 554.8L1828.0 554.6L1828.0 554.6L1828.1 554.9L1828.0 555.4L1827.9 555.4L1828.0 555.3L1828.3 555.1L1828.6 554.9L1828.9 554.7L1829.2 554.5L1829.6 554.3L1830.1 554.1L1830.7 553.8L1831.3 553.6L1831.8 553.4L1832.4 553.3L1832.8 553.1L1833.1 553.0ZM1833.5 558.5L1833.9 558.7L1834.5 558.8L1835.2 559.1L1835.9 559.3L1836.7 559.5L1837.6 559.7L1838.4 559.8L1839.2 560.0L1840.0 560.0L1840.8 560.1L1841.6 560.1L1842.5 560.1L1843.3 560.1L1844.2 560.0L1845.1 560.0L1846.0 559.9L1846.9 559.7L1847.8 559.6L1848.8 559.4L1849.8 559.1L1850.8 558.9L1851.7 558.6L1852.6 558.4L1853.4 558.1L1854.1 557.8L1854.9 557.5L1855.5 557.1L1856.2 556.7L1856.7 556.4L1857.2 556.1L1857.6 555.8L1857.9 555.6L1857.8 555.3L1857.4 555.4L1857.0 555.6L1856.5 555.9L1855.9 556.2L1855.2 556.4L1854.5 556.7L1853.8 557.0L1853.1 557.2L1852.3 557.4L1851.4 557.6L1850.5 557.8L1849.6 558.0L1848.6 558.1L1847.6 558.3L1846.7 558.4L1845.8 558.5L1844.9 558.6L1844.1 558.7L1843.3 558.7L1842.5 558.7L1841.7 558.8L1840.9 558.7L1840.1 558.7L1839.3 558.7L1838.5 558.7L1837.7 558.6L1836.9 558.6L1836.1 558.5L1835.3 558.4L1834.6 558.3L1834.0 558.3L1833.6 558.2ZM1853.2 539.6L1853.5 539.7L1854.0 539.8L1854.5 539.9L1855.0 540.1L1855.6 540.2L1856.1 540.4L1856.5 540.5L1856.7 540.7L1856.8 540.8L1857.0 541.0L1857.1 541.2L1857.2 541.4L1857.3 541.6L1857.3 541.8L1857.3 542.0L1857.2 542.2L1857.2 542.5L1857.1 542.8L1857.0 543.1L1856.9 543.5L1856.6 543.8L1856.4 544.2L1856.1 544.5L1855.8 544.8L1855.5 545.1L1855.0 545.5L1854.4 545.9L1853.8 546.2L1853.2 546.5L1852.7 546.8L1852.2 547.1L1851.9 547.3L1852.1 547.7L1852.4 547.6L1853.0 547.5L1853.6 547.3L1854.2 547.1L1854.9 546.9L1855.6 546.7L1856.3 546.4L1856.8 546.1L1857.3 545.7L1857.7 545.3L1858.1 544.8L1858.4 544.4L1858.7 543.9L1858.9 543.4L1859.1 543.0L1859.2 542.5L1859.2 542.0L1859.2 541.5L1859.0 541.0L1858.8 540.6L1858.6 540.2L1858.2 539.9L1857.9 539.6L1857.4 539.3L1856.9 539.1L1856.3 539.1L1855.7 539.1L1855.1 539.1L1854.5 539.1L1854.0 539.1L1853.6 539.2L1853.3 539.2Z"/>
<text x="1869.80" y="544.80" font-family='"Liberation Sans", "DejaVu Sans", sans-serif' font-size="29.4" font-weight="normal" fill="#000" text-anchor="start" letter-spacing="0" textLength="67.5" lengthAdjust="spacingAndGlyphs" stroke="#000" stroke-width="0.5">JDBC</text>
<path transform="translate(1812.10 583.00) scale(2.7000)" fill="#050608" d="M12 .297c-6.630 0-12 5.373-12 12 0 5.303 3.438 9.800 8.205 11.385.6.113.82-.258.820-.577 0-.285-.010-1.040-.015-2.040-3.338.724-4.042-1.610-4.042-1.610C4.422 18.070 3.633 17.700 3.633 17.700c-1.087-.744.084-.729.084-.729 1.205.084 1.838 1.236 1.838 1.236 1.070 1.835 2.809 1.305 3.495.998.108-.776.417-1.305.760-1.605-2.665-.300-5.466-1.332-5.466-5.930 0-1.310.465-2.380 1.235-3.220-.135-.303-.540-1.523.105-3.176 0 0 1.005-.322 3.300 1.230.960-.267 1.980-.399 3-.405 1.020.006 2.040.138 3 .405 2.280-1.552 3.285-1.230 3.285-1.230.645 1.653.240 2.873.120 3.176.765.840 1.230 1.910 1.230 3.220 0 4.610-2.805 5.625-5.475 5.920.420.360.810 1.096.810 2.220 0 1.606-.015 2.896-.015 3.286 0 .315.210.690.825.570C20.565 22.092 24 17.592 24 12.297c0-6.627-5.373-12-12-12"/>
<path fill="#0b1f2c" d="M1922.4 574.800c1.400 3.200 4.600 6.400 8.400 11.600 6.200 8.400 9.600 18 9.100 27.400-.6 11.400-6.800 20.600-15.400 26.600l-.8 8.400c-.1.800-.5 1.200-1.300 1.200s-1.200-.4-1.300-1.200l-.8-8.400c-8.600-6-14.800-15.200-15.400-26.600-.5-9.400 2.900-19 9.100-27.400 3.800-5.200 7-8.400 8.400-11.600z"/>
<path fill="#fff" d="M1922.400 600.200l1.500 39.400c-.5.500-1 .900-1.500 1.300-.5-.4-1-.8-1.500-1.300z"/>
<rect x="1820.8" y="672" width="22.5" height="22.4" rx="1" fill="#050608"/>
<rect x="1845.4" y="672" width="22.5" height="22.4" rx="1" fill="#050608"/>
<rect x="1820.8" y="696.5" width="22.5" height="22.4" rx="1" fill="#050608"/>
<rect x="1845.4" y="696.5" width="22.5" height="22.4" rx="1" fill="#050608"/>
<path fill="#050608" d="M1922.90 689.80H1950.79A28.7 28.7 0 1 1 1942.17 674.21L1933.93 682.66A16.9 16.9 0 1 0 1938.36 701.30H1922.90Z"/>
<text x="1878.95" y="780.40" font-family='"Liberation Mono", "DejaVu Sans Mono", monospace' font-size="28" font-weight="normal" fill="#000" text-anchor="middle" letter-spacing="2.3"  stroke="#000" stroke-width="0.45">IDENTITY</text>
<text x="1878.95" y="814.00" font-family='"Liberation Mono", "DejaVu Sans Mono", monospace' font-size="28" font-weight="normal" fill="#000" text-anchor="middle" letter-spacing="2.3"  stroke="#000" stroke-width="0.45">PROVIDERS</text>
<text x="1779.80" y="1102.30" font-family='"Liberation Sans", "DejaVu Sans", sans-serif' font-size="36" font-weight="bold" fill="#000" text-anchor="start" letter-spacing="0" stroke="#000" stroke-width="0.5">{</text>
<text x="1801.70" y="1102.80" font-family='"Liberation Sans", "DejaVu Sans", sans-serif' font-size="37" font-weight="bold" fill="#000" text-anchor="start" letter-spacing="0" textLength="155.2" lengthAdjust="spacingAndGlyphs" stroke="#000" stroke-width="1.3">REST:API</text>
<text x="1964.60" y="1102.30" font-family='"Liberation Sans", "DejaVu Sans", sans-serif' font-size="36" font-weight="bold" fill="#000" text-anchor="start" letter-spacing="0" stroke="#000" stroke-width="0.5">}</text>
<text x="1785.60" y="1161.70" font-family='"Liberation Sans", "DejaVu Sans", sans-serif' font-size="35.6" font-weight="normal" fill="#111" text-anchor="start" letter-spacing="0" textLength="85.5" lengthAdjust="spacingAndGlyphs">gRPC</text>
<path fill="none" stroke="#111" stroke-width="1.6" stroke-linecap="round" stroke-linejoin="round" d="M1783 1139H1804M1787 1135.500L1783 1139L1787 1142.500M1800.500 1136.500L1804 1139L1800.500 1141.500"/>
<path fill="none" stroke="#000" stroke-width="3.6" stroke-linejoin="miter" d="M1902.6 1127.700H1961.500L1971 1148L1961.500 1168.300H1902.600L1893.300 1148Z"/>
<text x="1906.90" y="1154.80" font-family='"Liberation Sans", "DejaVu Sans", sans-serif' font-size="18.5" font-weight="bold" fill="#000" text-anchor="start" letter-spacing="0.6" >HTTP</text>
<text transform="translate(1851.6 1213.2) scale(0.8 1.1)" x="0" y="0" font-family='"Liberation Mono", "DejaVu Sans Mono", monospace' font-size="27" font-weight="bold" fill="#000" stroke="#000" stroke-width="0.7" letter-spacing="9.2">&lt;/&gt;</text>
<text x="1821.40" y="1241.00" font-family='"Liberation Sans", "DejaVu Sans", sans-serif' font-size="26" font-weight="normal" fill="#000" text-anchor="start" letter-spacing="0" textLength="115.4" lengthAdjust="spacingAndGlyphs" stroke="#000" stroke-width="0.3">SOAP API</text>
<text x="1879.80" y="1302.10" font-family='"Liberation Mono", "DejaVu Sans Mono", monospace' font-size="28.8" font-weight="normal" fill="#000" text-anchor="middle" letter-spacing="1.6"  stroke="#000" stroke-width="0.45">BACKEND APIS</text>
</svg></body></html>
